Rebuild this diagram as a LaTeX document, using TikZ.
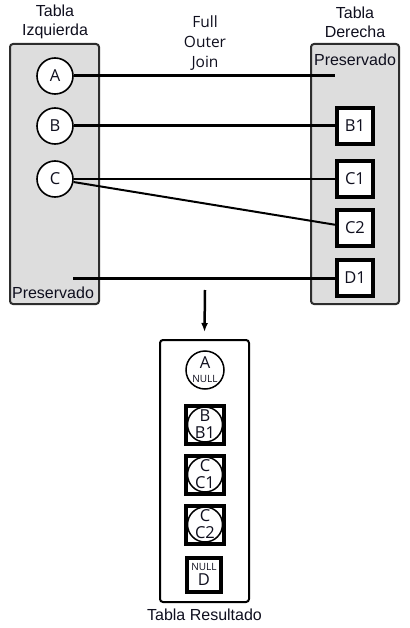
\documentclass[tikz,border=0pt]{standalone}
\usepackage{fontspec}
\setmainfont{Liberation Sans}
\newfontfamily\letra{Open Sans}
\usetikzlibrary{arrows.meta}
\definecolor{tabla}{RGB}{221,221,221}
\definecolor{borde}{RGB}{45,45,45}
\definecolor{texto}{RGB}{15,15,30}
\tikzstyle{fila}=[circle, draw, fill=white, line width=1.6pt, minimum size=36pt, inner sep=0pt, text=texto, font=\letra\fontsize{16.5}{16.5}\selectfont]
\tikzstyle{clave}=[rectangle, draw, fill=white, line width=4pt, minimum size=36pt, inner sep=0pt, text=texto, font=\letra\fontsize{16.5}{16.5}\selectfont]
\tikzstyle{titulo}=[align=center, text=texto, font=\fontsize{16}{19}\selectfont]
\tikzset{tabla/.style={rectangle, draw=borde, fill=tabla, line width=2pt, rounded corners=3pt}}
\tikzset{enlace/.style={line width=3pt}}
\tikzset{fino/.style={line width=2pt}}
\tikzset{resfila/.style={align=center, inner sep=0pt, text=texto, font=\letra\fontsize{16.5}{17}\selectfont}}
\tikzset{rescuadro/.style={rectangle, draw, fill=white, line width=4pt, minimum size=38pt, resfila,
    path picture={\draw[line width=1.5pt] (path picture bounding box.center) circle (17.5pt);}}}
\newcommand{\nulo}{{\fontsize{10}{10}\selectfont NULL}}

\begin{document}
\begin{tikzpicture}[x=1pt,y=-1pt]
  \useasboundingbox (0,0) rectangle (409,628);

  %% Tablas
  \draw (54.5,174) node[tabla, minimum width=89pt, minimum height=260pt] (izq) {};
  \draw (355,174) node[tabla, minimum width=88pt, minimum height=260pt] (der) {};
  \draw (204.5,471) node[tabla, fill=white, draw=black, minimum width=89pt, minimum height=262pt] (res) {};

  \draw (55,22) node[titulo] (tizq) {Tabla\\Izquierda};
  \draw (355,22) node[titulo] (tder) {Tabla\\Derecha};
  \draw (205,43) node[titulo, font=\letra\fontsize{15.5}{20}\selectfont] (join) {Full\\Outer\\Join};
  \draw (204.5,615) node[titulo] (tres) {Tabla Resultado};
  \draw (53,293) node[titulo] (pizq) {Preservado};
  \draw (355,60) node[titulo] (pder) {Preservado};

  %% Filas izquierda
  \draw (55,76) node[fila] (A) {A};
  \draw (55,126) node[fila] (B) {B};
  \draw (55,179) node[fila] (C) {C};
  \coordinate (finD) at (73,278);

  %% Filas derecha
  \coordinate (finA) at (335,76);
  \draw (355,126) node[clave] (B1) {B1};
  \draw (355,179) node[clave] (C1) {C1};
  \draw (355,228) node[clave] (C2) {C2};
  \draw (355,278) node[clave] (D1) {D1};

  %% Enlaces
  \draw[enlace] (A) -- (finA);
  \draw[enlace] (B) -- (B1);
  \draw[fino] (C) -- (C1);
  \draw[fino] (C) -- (C2);
  \draw[enlace] (finD) -- (D1);

  %% Resultado
  \coordinate (inicio) at (205,290);
  \draw[line width=2.5pt, -{Latex[length=9pt,width=7pt]}] (inicio) -- ([yshift=7pt]res.north);

  \draw (205,370) node[fila, line width=1.5pt, minimum size=38pt, resfila] (RA) {A\\[-3pt]\nulo};
  \draw (205,424.5) node[rescuadro] (RB) {B\\B1};
  \draw (205,474.5) node[rescuadro] (RC1) {C\\C1};
  \draw (205,524.5) node[rescuadro] (RC2) {C\\C2};
  \draw (204,574.5) node[clave, minimum size=34pt, resfila] (RD) {\nulo\\[-2pt]D};
\end{tikzpicture}
\end{document}
